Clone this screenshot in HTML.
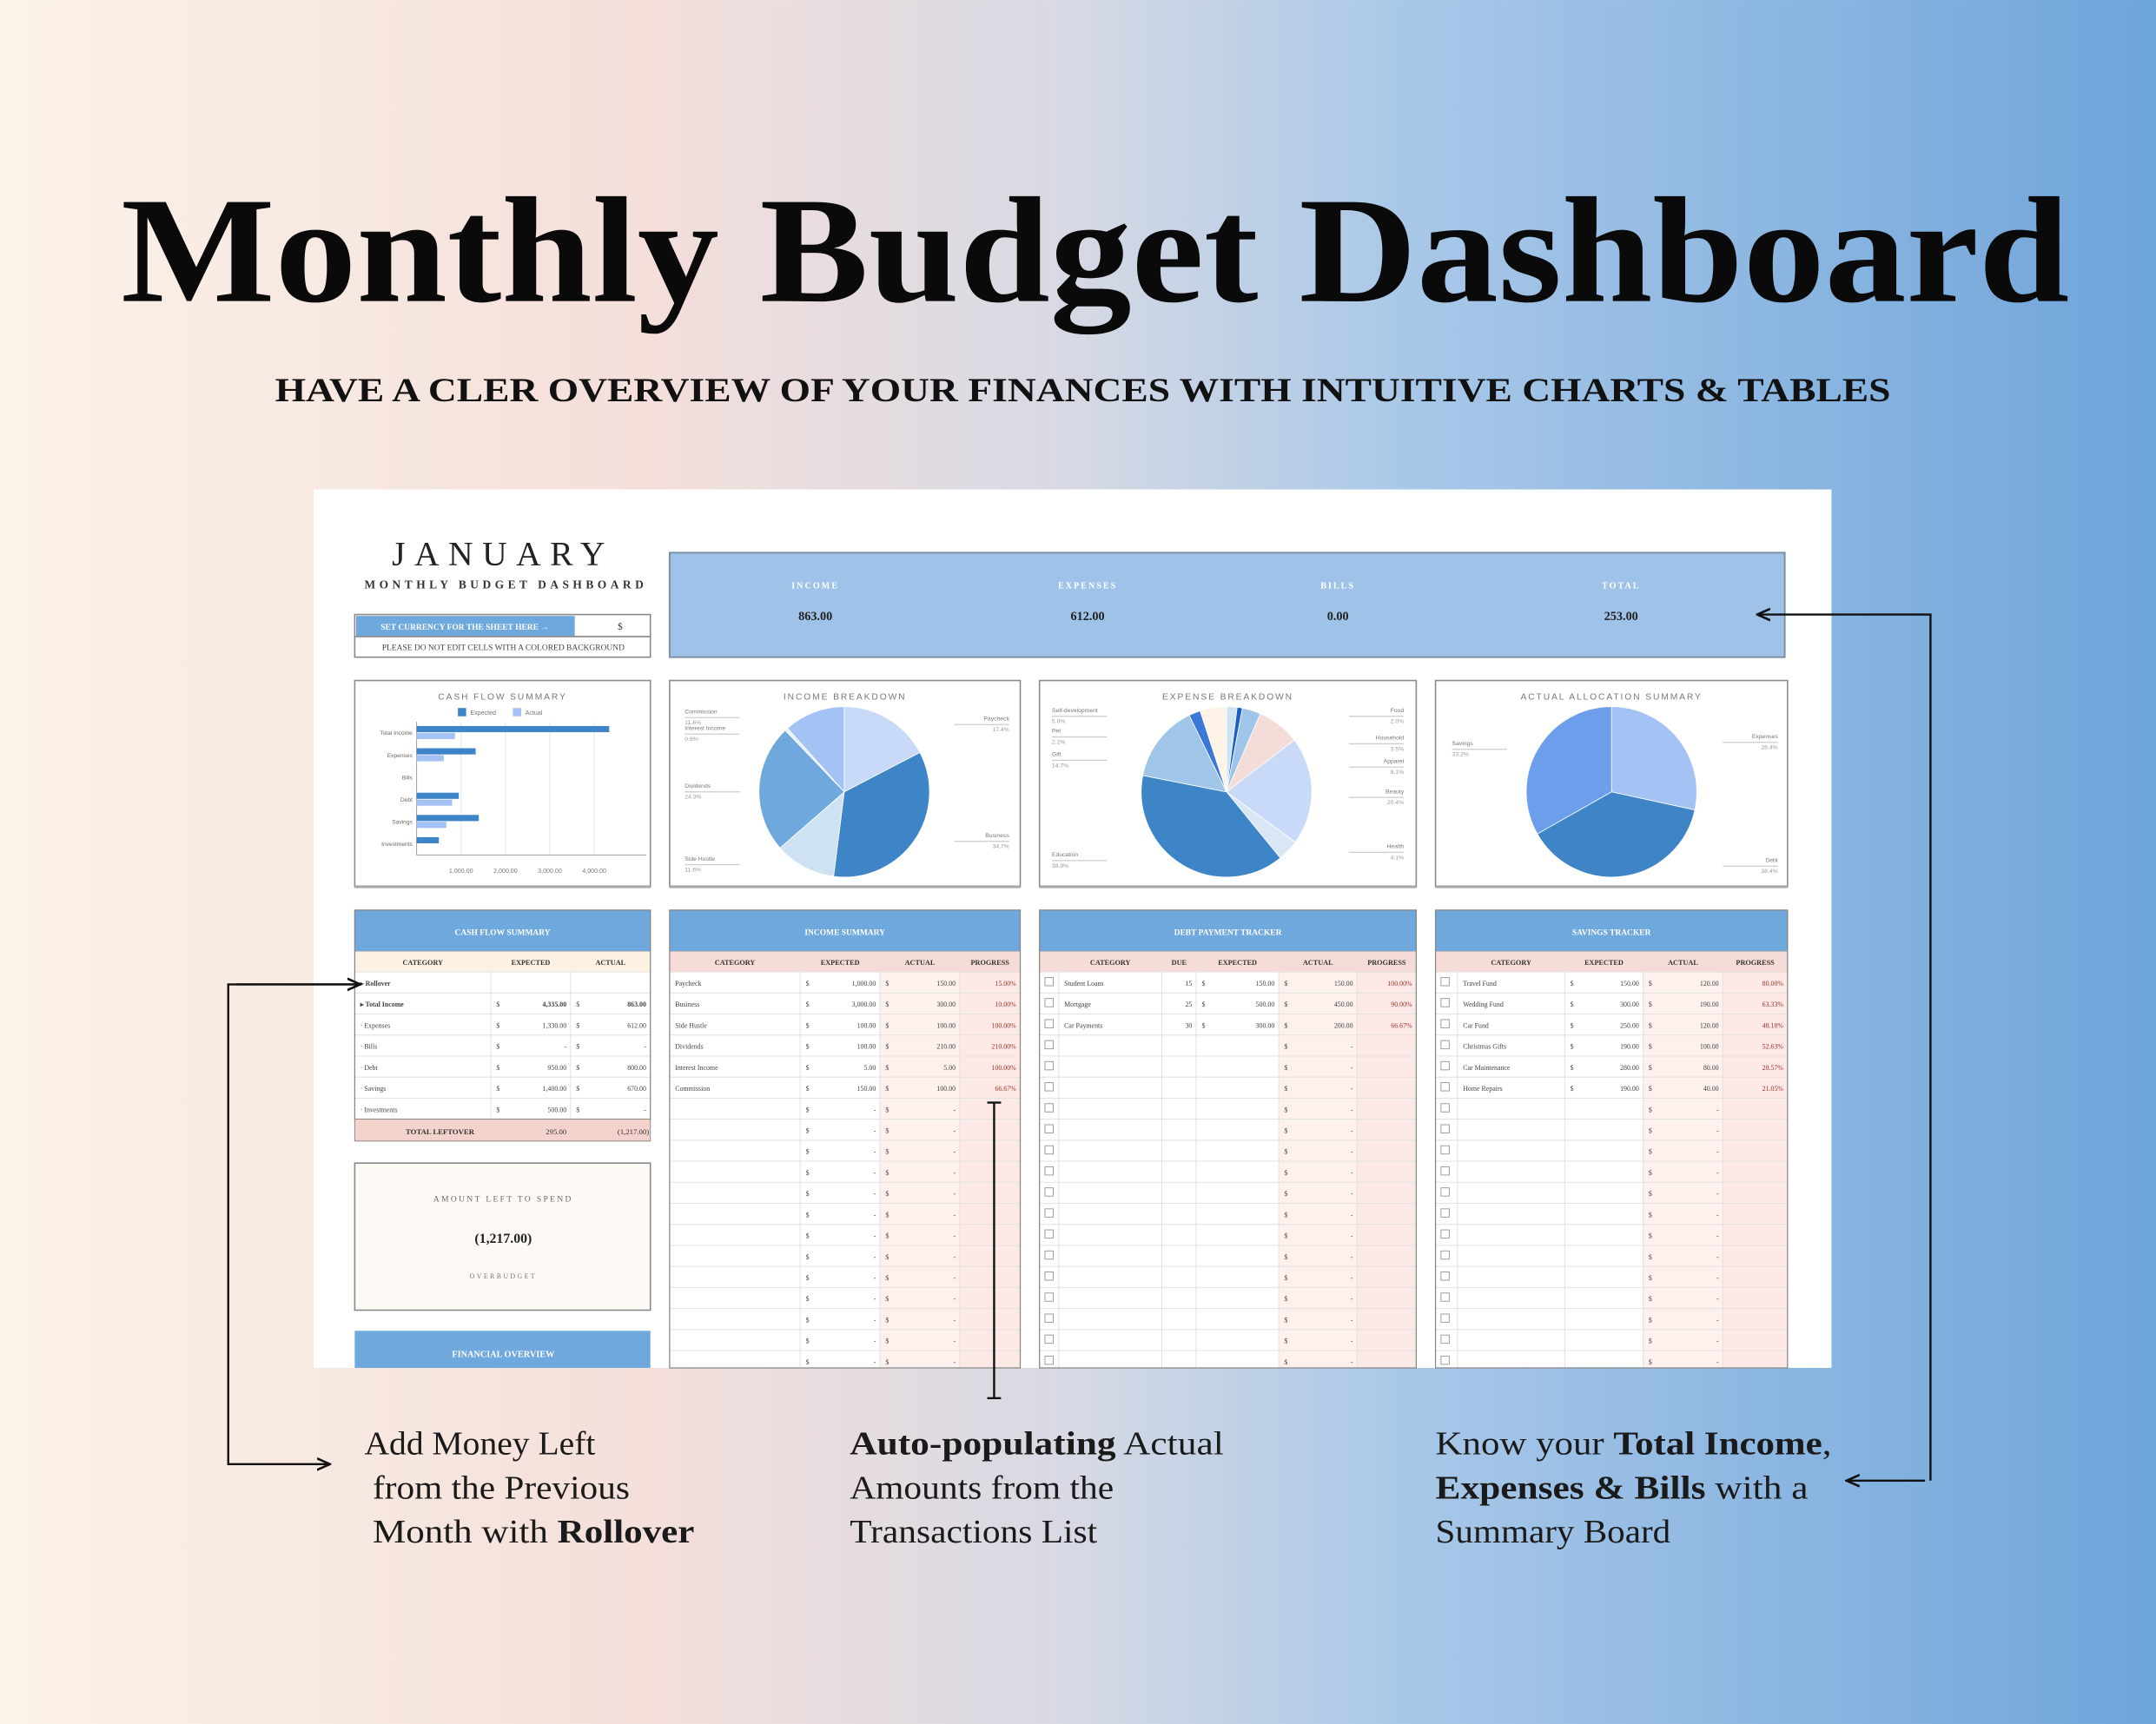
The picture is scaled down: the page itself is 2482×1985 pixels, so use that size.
<!DOCTYPE html>
<html><head><meta charset="utf-8"><style>
html,body{margin:0;padding:0;overflow:hidden;background:#fff}
svg{display:block}
text{font-family:"Liberation Serif",serif}
.sans{font-family:"Liberation Sans",sans-serif}
</style></head><body>
<svg id="root" width="2482" height="1985" viewBox="0 0 1568 1254" xmlns="http://www.w3.org/2000/svg">
<defs>
<linearGradient id="bg" x1="0" y1="0" x2="1" y2="0">
<stop offset="0" stop-color="#fbf2e8"/><stop offset="0.3" stop-color="#f4dfdb"/><stop offset="0.5" stop-color="#d6d9e4"/><stop offset="0.65" stop-color="#a9c8e8"/><stop offset="1" stop-color="#6ea5da"/>
</linearGradient>
<marker id="ah" viewBox="0 0 10 10" refX="9" refY="5" markerWidth="7" markerHeight="7" orient="auto"><path d="M0,1 L9,5 L0,9" fill="none" stroke="#111" stroke-width="1.6"/></marker>
</defs>
<rect x="0" y="0" width="1568" height="1254" fill="url(#bg)"/>
<text x="88" y="219" font-size="110" font-weight="bold" textLength="1417" lengthAdjust="spacingAndGlyphs" fill="#0a0a0a">Monthly Budget Dashboard</text>
<text x="200" y="292" font-size="25" font-weight="bold" textLength="1175" lengthAdjust="spacingAndGlyphs" fill="#111">HAVE A CLER OVERVIEW OF YOUR FINANCES WITH INTUITIVE CHARTS &amp; TABLES</text>

<g id="dash">
<rect x="228" y="356" width="1104" height="639" fill="#fff"/>
<text x="285" y="411" font-size="25" textLength="155" lengthAdjust="spacing" fill="#222">JANUARY</text>
<text x="265" y="428" font-size="8.5" font-weight="bold" textLength="203" lengthAdjust="spacing" fill="#333">MONTHLY BUDGET DASHBOARD</text>
<g>
<rect x="258" y="447" width="215" height="31" fill="#fff" stroke="#888" stroke-width="1"/>
<rect x="259" y="448" width="159" height="15" fill="#6fa8dc"/>
<text x="338" y="458" font-size="6" font-weight="bold" fill="#fff" text-anchor="middle">SET CURRENCY FOR THE SHEET HERE →</text>
<text x="451" y="458" font-size="7" fill="#333" text-anchor="middle">$</text>
<line x1="258" y1="463" x2="473" y2="463" stroke="#888"/>
<text x="366" y="473" font-size="6" fill="#444" text-anchor="middle">PLEASE DO NOT EDIT CELLS WITH A COLORED BACKGROUND</text>
</g>
<g>
<rect x="487" y="402" width="811" height="76" fill="#9fc3e8" stroke="#7a8ca0" stroke-width="1.2"/>
<g font-size="6.5" font-weight="bold" fill="#fff" text-anchor="middle" letter-spacing="1.2">
<text x="593" y="428">INCOME</text><text x="791" y="428">EXPENSES</text><text x="973" y="428">BILLS</text><text x="1179" y="428">TOTAL</text></g>
<g font-size="9" font-weight="bold" fill="#222" text-anchor="middle">
<text x="593" y="451">863.00</text><text x="791" y="451">612.00</text><text x="973" y="451">0.00</text><text x="1179" y="451">253.00</text></g>
</g>
<g id="boxes"></g>
<g id="charts"></g>
<g id="tables"></g>
<g>
<rect x="258" y="846" width="215" height="107" fill="#fdfaf6" stroke="#888"/>
<text x="366" y="874" font-size="6" letter-spacing="1.5" fill="#666" text-anchor="middle">AMOUNT LEFT TO SPEND</text>
<text x="366" y="904" font-size="10" font-weight="bold" fill="#222" text-anchor="middle">(1,217.00)</text>
<text x="366" y="930" font-size="5" letter-spacing="1.5" fill="#777" text-anchor="middle">OVERBUDGET</text>
</g>
<g>
<rect x="258" y="968" width="215" height="27" fill="#6fa8dc"/>
<text x="366" y="987" font-size="6.5" font-weight="bold" fill="#fff" text-anchor="middle">FINANCIAL OVERVIEW</text>
</g>
</g>

<g stroke="#111" stroke-width="1.5" fill="none">
<polyline points="262,716 166,716 166,1065 240,1065" marker-end="url(#ah)"/>
<line x1="172" y1="716" x2="262" y2="716" marker-end="url(#ah)"/>
<line x1="723" y1="802" x2="723" y2="1017"/>
<line x1="718" y1="802" x2="728" y2="802"/><line x1="718" y1="1017" x2="728" y2="1017"/>
<polyline points="1404,1077 1404,447 1278,447" marker-end="url(#ah)"/>
<line x1="1400" y1="1077" x2="1343" y2="1077" marker-end="url(#ah)"/>
</g>
<g font-size="24" fill="#1a1a1a">
<text x="265" y="1058" textLength="168" lengthAdjust="spacingAndGlyphs">Add Money Left</text>
<text x="271" y="1090" textLength="187" lengthAdjust="spacingAndGlyphs">from the Previous</text>
<text x="271" y="1122" textLength="234" lengthAdjust="spacingAndGlyphs">Month with <tspan font-weight="bold">Rollover</tspan></text>
<text x="618" y="1058" textLength="272" lengthAdjust="spacingAndGlyphs"><tspan font-weight="bold">Auto-populating</tspan> Actual</text>
<text x="618" y="1090" textLength="192" lengthAdjust="spacingAndGlyphs">Amounts from the</text>
<text x="618" y="1122" textLength="180" lengthAdjust="spacingAndGlyphs">Transactions List</text>
<text x="1044" y="1058" textLength="288" lengthAdjust="spacingAndGlyphs">Know your <tspan font-weight="bold">Total Income</tspan>,</text>
<text x="1044" y="1090" textLength="271" lengthAdjust="spacingAndGlyphs"><tspan font-weight="bold">Expenses &amp; Bills</tspan> with a</text>
<text x="1044" y="1122" textLength="171" lengthAdjust="spacingAndGlyphs">Summary Board</text>
</g>
</svg>
<script>
const barCategories=["Total Income","Expenses","Bills","Debt","Savings","Investments"];
const barExpected=[4335,1330,0,950,1400,500];
const barActual=[863,612,0,800,670,0];
const barTicks=[1000,2000,3000,4000];
const barTickLabels=["1,000.00","2,000.00","3,000.00","4,000.00"];

const incomeLabels=["Paycheck","Business","Side Hustle","Dividends","Interest Income","Commission"];
const incomeValues=[17.4,34.7,11.6,24.3,0.6,11.6];
const expenseLabels=["Food","Misc","Household","Apparel","Beauty","Health","Education","Gift","Pet","Self-development"];
const expenseValues=[2.0,1.0,3.5,8.1,20.4,4.1,38.9,14.7,2.2,5.0];
const allocLabels=["Expenses","Debt","Savings"];
const allocValues=[28.4,38.4,33.2];

const cfCats=["Rollover","Total Income","Expenses","Bills","Debt","Savings","Investments"];
const cfExp=["","4,335.00","1,330.00","-","950.00","1,400.00","500.00"];
const cfAct=["","863.00","612.00","-","800.00","670.00","-"];
const incCats=["Paycheck","Business","Side Hustle","Dividends","Interest Income","Commission"];
const incExp=["1,000.00","3,000.00","100.00","100.00","5.00","150.00"];
const incAct=["150.00","300.00","100.00","210.00","5.00","100.00"];
const incProg=["15.00%","10.00%","100.00%","210.00%","100.00%","66.67%"];
const debtCats=["Student Loans","Mortgage","Car Payments"];
const debtDue=["15","25","30"];
const debtExp=["150.00","500.00","300.00"];
const debtAct=["150.00","450.00","200.00"];
const debtProg=["100.00%","90.00%","66.67%"];
const savCats=["Travel Fund","Wedding Fund","Car Fund","Christmas Gifts","Car Maintenance","Home Repairs"];
const savExp=["150.00","300.00","250.00","190.00","280.00","190.00"];
const savAct=["120.00","190.00","120.00","100.00","80.00","40.00"];
const savProg=["80.00%","63.33%","48.18%","52.63%","28.57%","21.05%"];

const NS="http://www.w3.org/2000/svg";
function mk(tag,attrs,parent,txt){const e=document.createElementNS(NS,tag);for(const k in attrs)e.setAttribute(k,attrs[k]);if(txt!==undefined)e.textContent=txt;parent.appendChild(e);return e;}
const boxes=document.getElementById('boxes'),charts=document.getElementById('charts'),tables=document.getElementById('tables');

const chartBoxes=[[258,473,"CASH FLOW SUMMARY","cash-flow-chart"],[487,742,"INCOME BREAKDOWN","income-breakdown-chart"],[756,1030,"EXPENSE BREAKDOWN","expense-breakdown-chart"],[1044,1300,"ACTUAL ALLOCATION SUMMARY","allocation-chart"]];
chartBoxes.forEach(b=>{
  const g=mk('g',{},boxes);
  
  
  mk('rect',{x:b[0],y:495,width:b[1]-b[0],height:150,fill:'#fff',stroke:'#8a8a8a','stroke-width':1},g);
  mk('line',{x1:b[0],y1:645,x2:b[1],y2:645,stroke:'#aaa','stroke-width':2},g);
  mk('text',{x:(b[0]+b[1])/2,y:509,'font-size':6.5,'text-anchor':'middle',fill:'#777','letter-spacing':1.2,class:'sans'},g,b[2]);
});

const bx0=303,bx1=470,by0=525,by1=622;
const xs=v=>bx0+(v/1000)*32.3;
const bandH=(by1-by0)/barCategories.length;
const cg=mk('g',{},charts);


mk('rect',{x:333,y:515,width:6,height:6,fill:'#3d85c6'},cg);
mk('text',{x:342,y:520,'font-size':4.5,fill:'#777',class:'sans'},cg,'Expected');
mk('rect',{x:373,y:515,width:6,height:6,fill:'#a4c2f4'},cg);
mk('text',{x:382,y:520,'font-size':4.5,fill:'#777',class:'sans'},cg,'Actual');
barTicks.forEach((t,i)=>{
  mk('line',{x1:xs(t),y1:by0,x2:xs(t),y2:by1,stroke:'#e5e5e5','stroke-width':0.6},cg);
  const tl=mk('text',{x:xs(t),y:by1+13,'font-size':4.5,'text-anchor':'middle',fill:'#777',class:'sans'},cg,barTickLabels[i]);
  
  
});
mk('line',{x1:bx0,y1:by0,x2:bx0,y2:by1,stroke:'#999','stroke-width':0.6},cg);
mk('line',{x1:bx0,y1:by1,x2:bx1,y2:by1,stroke:'#999','stroke-width':0.6},cg);
barCategories.forEach((c,i)=>{
  const yc=by0+bandH*i+bandH/2;
  const l=mk('text',{x:bx0-3,y:yc+1.5,'font-size':4.2,'text-anchor':'end',fill:'#666',class:'sans'},cg,c);
  
  
  const r1=mk('rect',{x:bx0,y:yc-5,width:Math.max(0,xs(barExpected[i])-bx0),height:4.5,fill:'#3d85c6'},cg);
  
  
  const r2=mk('rect',{x:bx0,y:yc,width:Math.max(0,xs(barActual[i])-bx0),height:4.5,fill:'#a4c2f4'},cg);
  
  
});

function pie(cx,cy,r,vals,labels,colors,name,labelSides){
  const g=mk('g',{},charts);
  
  
  const tot=vals.reduce((a,b)=>a+b,0);let a=-Math.PI/2;
  vals.forEach((v,i)=>{
    const a2=a+v/tot*2*Math.PI;
    const x1=cx+r*Math.cos(a),y1=cy+r*Math.sin(a),x2=cx+r*Math.cos(a2),y2=cy+r*Math.sin(a2);
    const lg=(a2-a)>Math.PI?1:0;
    const p=mk('path',{d:`M${cx},${cy} L${x1},${y1} A${r},${r} 0 ${lg} 1 ${x2},${y2} Z`,fill:colors[i%colors.length],stroke:'#fff','stroke-width':0.5},g);
    
    
    a=a2;
  });
  labelSides.forEach(ls=>{
    const [idx,lx,ly,anchor]=ls;
    mk('line',{x1:anchor==='end'?lx-40:lx,y1:ly+3,x2:anchor==='end'?lx:lx+40,y2:ly+3,stroke:'#ccc','stroke-width':0.8},g);
    mk('text',{x:lx,y:ly,'font-size':4.3,fill:'#777','text-anchor':anchor,class:'sans'},g,labels[idx]);
    mk('text',{x:lx,y:ly+8,'font-size':4.3,fill:'#999','text-anchor':anchor,class:'sans'},g,vals[idx].toFixed(1)+'%');
  });
}
pie(614,576,62,incomeValues,incomeLabels,['#c9daf8','#3d85c6','#cfe2f3','#6fa8dc','#e8eef7','#a4c2f4'],'income-pie',
 [[0,734,524,'end'],[1,734,609,'end'],[2,498,626,'start'],[3,498,573,'start'],[4,498,531,'start'],[5,498,519,'start']]);
pie(892,576,62,expenseValues,expenseLabels,['#cfe2f3','#1c5fc4','#9fc5e8','#f4ddd8','#c9daf8','#d9e6f5','#3d85c6','#9fc5e8','#3c78d8','#fdf3e6'],'expense-pie',
 [[0,1021,518,'end'],[2,1021,538,'end'],[3,1021,555,'end'],[4,1021,577,'end'],[5,1021,617,'end'],[6,765,623,'start'],[7,765,550,'start'],[8,765,533,'start'],[9,765,518,'start']]);
pie(1172,576,62,allocValues,allocLabels,['#a4c2f4','#3d85c6','#6d9eeb'],'allocation-pie',
 [[0,1293,537,'end'],[1,1293,627,'end'],[2,1056,542,'start']]);

const rowH=15.3, tblTop=662;
function table(name,title,cols,hdrFill,rows,nRows,tint,boldRows){
  const g=mk('g',{},tables);
  
  
  const x0=cols[0][0],x1=cols[cols.length-1][1];
  mk('rect',{x:x0,y:tblTop,width:x1-x0,height:30,fill:'#6fa8dc',stroke:'#888','stroke-width':0.6},g);
  mk('text',{x:(x0+x1)/2,y:680,'font-size':6,'font-weight':'bold',fill:'#fff','text-anchor':'middle'},g,title);
  mk('rect',{x:x0,y:692,width:x1-x0,height:15,fill:hdrFill},g);
  cols.forEach(c=>{ if(c[2]) mk('text',{x:(c[0]+c[1])/2,y:702,'font-size':5.2,'font-weight':'bold',fill:'#333','text-anchor':'middle'},g,c[2]); });
  for(let r=0;r<nRows;r++){
    const y=707+r*rowH;
    if(y>=995)break;
    const h=Math.min(rowH,995-y);
    cols.forEach((c,ci)=>{
      const f=(tint&&tint[ci])?tint[ci]:'#fff';
      mk('rect',{x:c[0],y:y,width:c[1]-c[0],height:h,fill:f,stroke:'#e2e2e2','stroke-width':0.6},g);
    });
    const vals=rows(r);
    cols.forEach((c,ci)=>{
      const v=vals[ci];if(v===undefined||v==='')return;
      if(v==='[]'){const cb=mk('rect',{x:c[0]+4,y:y+4,width:6,height:6,fill:'#fff',stroke:'#999','stroke-width':0.6},g);return;}
      const right=c[3]==='r';
      mk('text',{x:right?c[1]-3:c[0]+4,y:y+10,'font-size':5,fill:c[4]||'#444','text-anchor':right?'end':'start','font-weight':(boldRows&&boldRows.includes(r))?'bold':'normal'},g,v);
      if(c[5]) mk('text',{x:c[0]+4,y:y+10,'font-size':5,fill:'#444'},g,'$');
    });
  }
  mk('rect',{x:x0,y:tblTop,width:x1-x0,height:Math.min(995,707+nRows*rowH)-tblTop,fill:'none',stroke:'#888','stroke-width':0.8},g);
  return g;
}
const cfg=table('cash-flow-table','CASH FLOW SUMMARY',[[258,357,'CATEGORY'],[357,415,'EXPECTED','r','#444',1],[415,473,'ACTUAL','r','#444',1]],'#fcf1e3',
 r=>r<7?[(r<2?'▸  ':'·  ')+cfCats[r],cfExp[r],cfAct[r]]:['','',''],7,null,[0,1]);
mk('rect',{x:258,y:814,width:215,height:16,fill:'#f4d3cc',stroke:'#888','stroke-width':0.6},cfg);
mk('text',{x:320,y:825,'font-size':5.5,'font-weight':'bold',fill:'#333','text-anchor':'middle'},cfg,'TOTAL LEFTOVER');
mk('text',{x:412,y:825,'font-size':5.5,fill:'#333','text-anchor':'end'},cfg,'295.00');
mk('text',{x:472,y:825,'font-size':5.5,fill:'#333','text-anchor':'end'},cfg,'(1,217.00)');

table('income-summary-table','INCOME SUMMARY',[[487,582,'CATEGORY'],[582,640,'EXPECTED','r','#444',1],[640,698,'ACTUAL','r','#444',1],[698,742,'PROGRESS','r','#a0302a']],'#f6dcd6',
 r=>r<incCats.length?[incCats[r],incExp[r],incAct[r],incProg[r]]:['','-','-',''],19,[null,null,'#fdf0ed','#fdeae6']);
table('debt-payment-table','DEBT PAYMENT TRACKER',[[756,770,''],[770,845,'CATEGORY'],[845,870,'DUE','r'],[870,930,'EXPECTED','r','#444',1],[930,987,'ACTUAL','r','#444',1],[987,1030,'PROGRESS','r','#a0302a']],'#f6dcd6',
 r=>r<debtCats.length?['[]',debtCats[r],debtDue[r],debtExp[r],debtAct[r],debtProg[r]]:['[]','','','','-',''],19,[null,null,null,null,'#fdf0ed','#fdeae6']);
table('savings-tracker-table','SAVINGS TRACKER',[[1044,1060,''],[1060,1138,'CATEGORY'],[1138,1195,'EXPECTED','r','#444',1],[1195,1253,'ACTUAL','r','#444',1],[1253,1300,'PROGRESS','r','#a0302a']],'#f6dcd6',
 r=>r<savCats.length?['[]',savCats[r],savExp[r],savAct[r],savProg[r]]:['[]','','','-',''],19,[null,null,null,'#fdf0ed','#fdeae6']);
</script>
</body></html>
